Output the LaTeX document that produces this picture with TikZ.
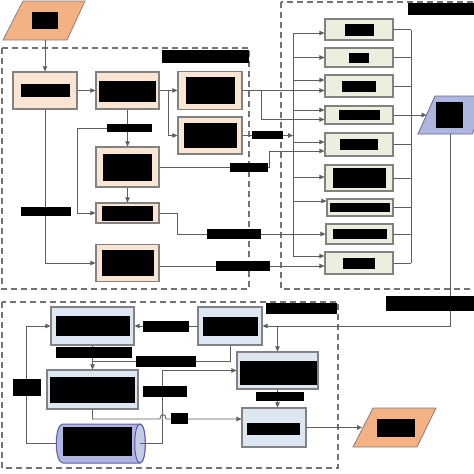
\documentclass[tikz,border=0pt]{standalone}
\usepackage{tikz}
\usetikzlibrary{arrows.meta,positioning,shapes.geometric,calc}
\definecolor{peach}{RGB}{250,228,210}
\definecolor{sandgreen}{RGB}{236,238,222}
\definecolor{paleblue}{RGB}{221,231,243}
\definecolor{orangefill}{RGB}{244,177,131}
\definecolor{lavender}{RGB}{172,182,222}
\definecolor{linegray}{RGB}{95,95,95}
\definecolor{boxgray}{RGB}{130,130,130}

\begin{document}
\begin{tikzpicture}[x=1pt,y=-1pt,
    conn/.style={draw=linegray,line width=0.9pt},
    arr/.style={conn,-{Triangle[length=5pt,width=4.5pt]}},
    obox/.style 2 args={draw=boxgray,fill=peach,line width=1.2pt,inner sep=0,minimum width=#1pt,minimum height=#2pt},
    gbox/.style 2 args={draw=boxgray,fill=sandgreen,line width=1.2pt,inner sep=0,minimum width=#1pt,minimum height=#2pt},
    bbox/.style 2 args={draw=boxgray,fill=paleblue,line width=1.2pt,inner sep=0,minimum width=#1pt,minimum height=#2pt},
    lbl/.style 2 args={fill=black,inner sep=0,minimum width=#1pt,minimum height=#2pt},
    frame/.style={draw=gray!90!black,line width=1.2pt,dash pattern=on 6pt off 4pt}]
    \clip (0,0) rectangle (474,474);
    \fill[white] (0,0) rectangle (474,474);

    % Frames
    \draw[frame] (2,48) rectangle (249,289);
    \draw[frame] (281,2) rectangle (490,289);
    \draw[frame] (2,302) rectangle (338,468);

    % Inputs and outputs
    \draw[draw=boxgray,fill=orangefill,line width=0.8pt] (23,1) -- (85,1) -- (67,40) -- (3,40) -- cycle;
    \coordinate (P1s) at (45,40);
    \draw[draw=boxgray!80!blue,fill=lavender,line width=0.8pt] (435,96) -- (489,96) -- (472,134) -- (418,134) -- cycle;
    \coordinate (P2w) at (426.5,115);
    \coordinate (P2s) at (450,134);
    \draw[draw=boxgray,fill=orangefill,line width=0.8pt] (373,408) -- (436,408) -- (417,447) -- (353,447) -- cycle;
    \coordinate (P3w) at (362,427.5);

    % Upper left block
    \node[obox={64}{37}] (A1) at (45,90.5) {};
    \node[obox={63}{37}] (A2) at (127.5,90.5) {};
    \node[obox={64}{38}] (A3) at (210,90.5) {};
    \node[obox={64}{37}] (A4) at (210,135.5) {};
    \node[obox={63}{40}] (A5) at (127.5,167) {};
    \node[obox={63}{20}] (A6) at (127.5,213) {};
    \node[obox={63}{37}] (A7) at (127.5,263) {};

    % Right column
    \node[gbox={68}{21}] (R1) at (359,29.5) {};
    \node[gbox={68}{19}] (R2) at (359,57.5) {};
    \node[gbox={68}{22}] (R3) at (359,86) {};
    \node[gbox={68}{18}] (R4) at (359,115) {};
    \node[gbox={68}{23}] (R5) at (359,144.5) {};
    \node[gbox={68}{26}] (R6) at (359,178) {};
    \node[gbox={66}{17}] (R7) at (360,207.5) {};
    \node[gbox={67}{20}] (R8) at (359.5,234) {};
    \node[gbox={68}{22}] (R9) at (359,263) {};

    % Lower block
    \node[bbox={83}{38}] (B1) at (92.5,326) {};
    \node[bbox={64}{38}] (B2) at (230,326) {};
    \node[bbox={91}{39}] (B4) at (92.5,389.5) {};
    \node[bbox={81}{37}] (B3) at (277.5,370.5) {};
    \node[bbox={64}{39}] (B5) at (274,427.5) {};
    % Store
    \draw[draw=boxgray!70!blue,fill=lavender,line width=1pt]
        (63,424) -- (140,424) .. controls (147,424) and (147,463) .. (140,463)
        -- (63,463) .. controls (54,463) and (54,424) .. (63,424) -- cycle;
    \draw[draw=boxgray!70!blue,fill=lavender!70,line width=1pt]
        (140,424) .. controls (133,424) and (133,463) .. (140,463)
        .. controls (147,463) and (147,424) .. (140,424) -- cycle;
    \coordinate (Cw) at (56,443.5);
    \coordinate (Ce) at (140,443.5);

    % Connectors, upper part
    \draw[arr] (P1s) -- (A1.north);
    \draw[arr] (A1) -- (A2);
    \draw[arr] (A2) -- (A3);
    \coordinate (s2) at ($(A2.east)!0.5!(A3.west)$);
    \draw[arr] (s2) |- (A4.west);
    \draw[arr] (A2) -- (A5);
    \draw[arr] (A2.south |- 0,128) -| (A1.east |- A6.west) -- (A6.west);
    \draw[arr] (A5) -- (A6);
    \draw[arr] (A1) |- (A7);
    \draw[arr] (A5.east) -| ($(R5.west)+(-55,6.5)$) -- ($(R5.west)+(0,6.5)$);
    \draw[arr] (A6.east) -| (A3.west |- R8.west) -- (R8.west);
    \draw[arr] ($(A7.east)+(0,3)$) -- ($(R9.west)+(0,3)$);
    \draw[arr] (A3.east) -- ($(R3.west)+(0,4.5)$);
    \coordinate (s3) at (261,90.5);
    \draw[arr] (s3) |- ($(R4.west)+(0,4.5)$);

    % Bus into the right column
    \coordinate (busT) at (293,33);
    \coordinate (busB) at (293,256);
    \draw[conn] (busT) -- (busB);
    \draw[arr] (A4.east) -- (A4.east -| busT);
    \foreach \r/\dy in {R1/3.5,R2/0,R3/-6,R4/-5,R5/-2.5,R6/-1,R7/-6.5,R9/-7}{
        \coordinate (t) at ($(\r.west)+(0,\dy)$);
        \draw[arr] (t -| busT) -- (t);
    }

    % Bus out of the right column
    \coordinate (rbT) at (411,29.5);
    \draw[conn] (rbT) -- (rbT |- R9.east);
    \foreach \r in {R1,R2,R3,R5,R6,R7,R8,R9}
        \draw[conn] (\r.east) -- (\r.east -| rbT);
    \draw[arr] (R4.east) -- (P2w);

    % Connectors, lower part
    \draw[arr] (P2s) |- (B2.east);
    \draw[arr] (B3.north |- B2.east) -- (B3.north);
    \draw[arr] (B2) -- (B1);
    \draw[arr] (B1) -- (B4);
    \draw[conn] (B2.south) |- (B1.south |- 0,361);
    \draw[arr] (Cw) -- +(-30,0) |- (B1.west);
    \draw[arr] (Ce) -| ($(B3.west)+(-74,0)$) -- (B3.west);
    \coordinate (b5in) at ($(B5.west)+(0,-8.5)$);
    \draw[arr] (B4.south) |- (160,419) .. controls (160,413) and (166,413) .. (166,419) -- (b5in);
    \draw[arr] (B3.south) -- (B3.south |- B5.north);
    \draw[arr] (B5.east) -- (P3w);

    % Labels
    \node[lbl={26}{17}] (P1t) at (45,20.5) {};
    \node[lbl={27}{26}] (P2t) at (449.5,115) {};
    \node[lbl={38}{18}] (P3t) at (396,428) {};
    \node[lbl={87}{13}] (D1t) at (205.5,56.5) {};
    \node[lbl={70}{12}] (D2t) at (443,9) {};
    \node[lbl={71}{11}] (D3t) at (301.5,308.5) {};
    \node[lbl={49}{13}] (A1t) at (A1) {};
    \node[lbl={57}{21}] (A2t) at (127.5,91.5) {};
    \node[lbl={49}{27}] (A3t) at (A3) {};
    \node[lbl={53}{25}] (A4t) at (A4) {};
    \node[lbl={49}{27}] (A5t) at (A5) {};
    \node[lbl={51}{15}] (A6t) at (A6) {};
    \node[lbl={52}{26}] (A7t) at (A7) {};
    \node[lbl={45}{8}] (A25t) at (129.5,128) {};
    \node[lbl={50}{9}] (A17t) at (46,211.5) {};
    \node[lbl={38}{9}] (A5Rt) at (249,167.5) {};
    \node[lbl={54}{10}] (A6Rt) at (234,234) {};
    \node[lbl={54}{10}] (A7Rt) at (243,266) {};
    \node[lbl={31}{8}] (A4Rt) at (267.5,134.5) {};
    \node[lbl={29}{12}] (R1t) at (R1) {};
    \node[lbl={20}{10}] (R2t) at (R2) {};
    \node[lbl={34}{11}] (R3t) at (R3) {};
    \node[lbl={41}{10}] (R4t) at (R4) {};
    \node[lbl={38}{11}] (R5t) at (R5) {};
    \node[lbl={53}{20}] (R6t) at (R6) {};
    \node[lbl={60}{9}] (R7t) at (R7) {};
    \node[lbl={54}{10}] (R8t) at (R8) {};
    \node[lbl={32}{11}] (R9t) at (R9) {};
    \node[lbl={95}{15}] (P2Bt) at (433,303.5) {};
    \node[lbl={74}{20}] (B1t) at (B1) {};
    \node[lbl={55}{19}] (B2t) at (B2) {};
    \node[lbl={85}{26}] (B4t) at (B4) {};
    \node[lbl={77}{24}] (B3t) at (278.5,373) {};
    \node[lbl={53}{12}] (B5t) at (273.5,429) {};
    \node[lbl={69}{29}] (Ct) at (97.5,441.5) {};
    \node[lbl={46}{11}] (B21t) at (166,326.5) {};
    \node[lbl={76}{11}] (B14t) at (94,352.5) {};
    \node[lbl={60}{11}] (B2jt) at (166,361.5) {};
    \node[lbl={28}{17}] (CB1t) at (27,387.5) {};
    \node[lbl={44}{11}] (CB3t) at (165,391.5) {};
    \node[lbl={17}{11}] (B45t) at (179.5,418.5) {};
    \node[lbl={48}{9}] (B35t) at (280,396.5) {};
\end{tikzpicture}
\end{document}
